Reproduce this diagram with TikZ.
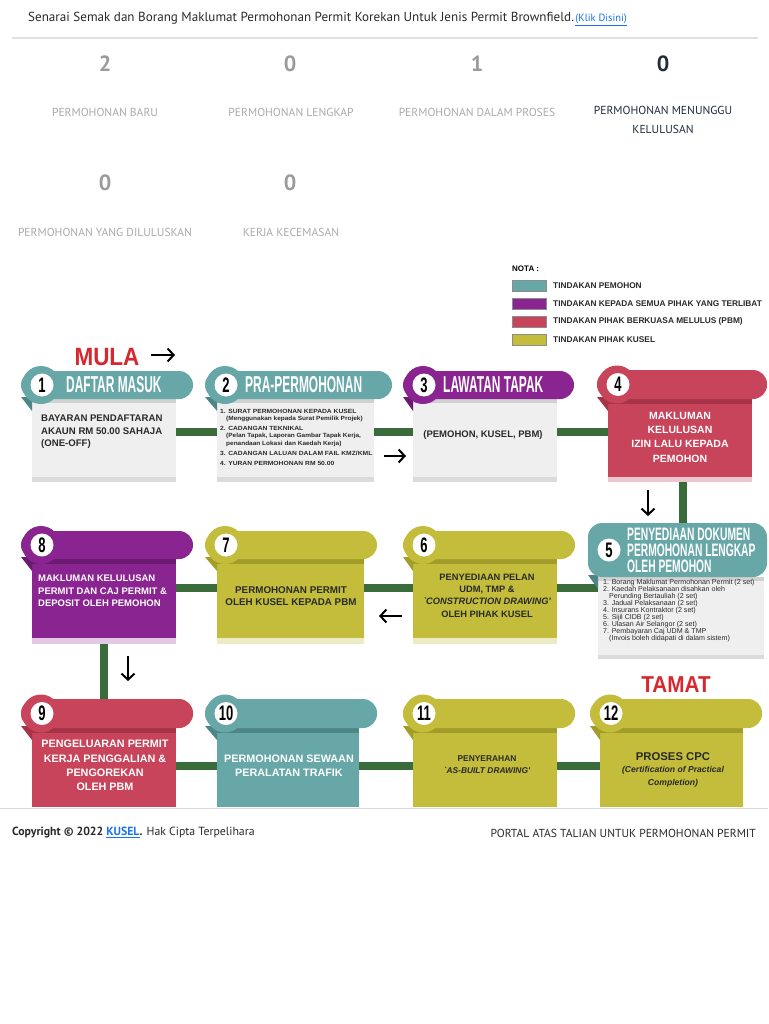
\documentclass[tikz,border=0pt]{standalone}
\usepackage{fontspec}
\usepackage{graphicx}
\setmainfont{PT Sans}
\newfontfamily\ar{Liberation Sans}
\usetikzlibrary{arrows.meta}
\definecolor{cteal}{HTML}{67A7A8}
\definecolor{cteald}{HTML}{4C8687}
\definecolor{cpurp}{HTML}{8A2490}
\definecolor{cpurpd}{HTML}{6A1A70}
\definecolor{cred}{HTML}{C8445A}
\definecolor{credd}{HTML}{A63347}
\definecolor{cyel}{HTML}{C3BD3B}
\definecolor{cyeld}{HTML}{A29D2A}
\definecolor{cgreen}{HTML}{3A6B3A}
\definecolor{cbody}{HTML}{EFEFEF}
\definecolor{cnum}{HTML}{9B9B9B}
\definecolor{clab}{HTML}{ABABAB}
\definecolor{cdark}{HTML}{1F2D3D}
\definecolor{clink}{HTML}{1A73E8}
\definecolor{cmula}{HTML}{D6282E}
\definecolor{ctxt}{HTML}{2A2A2A}
\pgfdeclarelayer{bg}
\pgfsetlayers{bg,main}
\newcommand{\tabshape}[7]{% x1,x2,ytop,ybot,bodyleft,col,dark
  \fill[#7] (#1,{#4-2}) -- (#5,{#4-2}) -- (#5,{#4+12}) -- cycle;
  \fill[#6,rounded corners=14pt] (#1,#3) rectangle (#2,#4);
  \fill[#6] ({#1+20},{(#3+#4)/2}) circle[radius=19pt];
  \fill[white] ({#1+21},{(#3+#4)/2}) circle[radius=11.5pt];
}
\newcommand{\ttl}[1]{\scalebox{0.52}[1]{\ar\bfseries\fontsize{23}{23}\selectfont #1}}
\newcommand{\ttlb}[1]{\scalebox{0.57}[1]{\ar\bfseries\fontsize{18}{18}\selectfont #1}}
\newcommand{\nm}[1]{\scalebox{0.62}[1]{\ar\bfseries\fontsize{21}{21}\selectfont #1}}
\newcommand{\lc}[1]{\scalebox{1.12}[1]{\ar\bfseries\fontsize{6}{7}\selectfont #1}}
\newcommand{\ls}[1]{\scalebox{1.08}[1]{\ar\bfseries\fontsize{6}{7}\selectfont #1}}
\tikzset{
  conn/.style={draw=cgreen, line width=8pt},
  barrow/.style={draw=black, line width=2pt, -{Straight Barb[length=6pt,width=13pt]}},
  body/.style={inner sep=0pt, outer sep=0pt, draw=none},
  ttlnode/.style={text=white, anchor=west, inner sep=0pt},
  num/.style={text=black, inner sep=0pt},
  wtxt/.style={text=white, align=center, inner sep=0pt},
  dtxt/.style={text=ctxt, align=center, inner sep=0pt},
  swatch/.style={minimum width=34pt, minimum height=11pt, inner sep=0pt, draw=black!45, line width=0.6pt},
  legtxt/.style={anchor=west, font=\ar\bfseries\fontsize{8.3}{9}\selectfont, inner sep=0pt, text=ctxt},
  stnum/.style={font=\bfseries\fontsize{22}{24}\selectfont, text=cnum, inner sep=0pt},
  stlab/.style={font=\fontsize{11.6}{19}\selectfont, text=clab, inner sep=0pt, align=center},
  lst/.style={anchor=west, inner sep=0pt, text=ctxt},
}
\begin{document}
\begin{tikzpicture}[x=1pt,y=-1pt]
\useasboundingbox (0,0) rectangle (768,1024);
\begin{pgfonlayer}{bg}
\fill[white] (0,0) rectangle (768,1024);
\end{pgfonlayer}

% ---------- header ----------
\node[anchor=west, font=\fontsize{13.1}{15}\selectfont, text=ctxt, inner sep=0pt] (hd) at (28,18)
  {Senarai Semak dan Borang Maklumat Permohonan Permit Korekan Untuk Jenis Permit Brownfield.};
\node[anchor=base west, font=\fontsize{10.5}{12}\selectfont, text=clink, inner sep=0pt] (kl) at ([xshift=1pt]hd.base east) {\underline{(Klik Disini)}};
\draw[draw=black!12, line width=1.2pt] (12,38) -- (758,38);

% ---------- stats ----------
\node[stnum] (s1) at (105,64) {2};
\node[stnum] (s2) at (290,64) {0};
\node[stnum] (s3) at (477,64) {1};
\node[stnum, text=cdark] (s4) at (663,64) {0};
\node[stlab] (l1) at (105,112) {PERMOHONAN BARU};
\node[stlab] (l2) at (291,112) {PERMOHONAN LENGKAP};
\node[stlab] (l3) at (477,112) {PERMOHONAN DALAM PROSES};
\node[stlab, text=cdark, anchor=north] (l4) at (663,106) {PERMOHONAN MENUNGGU\\KELULUSAN};
\node[stnum] (s5) at (105,183) {0};
\node[stnum] (s6) at (290,183) {0};
\node[stlab] (l5) at (105,232) {PERMOHONAN YANG DILULUSKAN};
\node[stlab] (l6) at (291,232) {KERJA KECEMASAN};

% ---------- legend ----------
\node[anchor=west, font=\ar\bfseries\fontsize{8}{9}\selectfont, inner sep=0pt, text=black] (nota) at (512,269) {NOTA :};
\node[swatch, fill=cteal] (k1) at (529,286) {};
\node[swatch, fill=cpurp] (k2) at (529,303.5) {};
\node[swatch, fill=cred] (k3) at (529,321.5) {};
\node[swatch, fill=cyel] (k4) at (529,340) {};
\node[legtxt] (kt1) at (553,286) {TINDAKAN PEMOHON};
\node[legtxt] (kt2) at (553,303.5) {TINDAKAN KEPADA SEMUA PIHAK YANG TERLIBAT};
\node[legtxt] (kt3) at (553,321.5) {TINDAKAN PIHAK BERKUASA MELULUS (PBM)};
\node[legtxt] (kt4) at (553,340) {TINDAKAN PIHAK KUSEL};

% ---------- MULA / TAMAT ----------
\node[inner sep=0pt, text=cmula] (mula) at (107,357) {\scalebox{0.9}[1]{\ar\bfseries\fontsize{25}{25}\selectfont MULA}};
\coordinate (ma1) at (151,355);
\coordinate (ma2) at (175,355);
\draw[barrow] (ma1) -- (ma2);
\node[inner sep=0pt, text=cmula] (tamat) at (676,685) {\scalebox{0.9}[1]{\ar\bfseries\fontsize{23}{23}\selectfont TAMAT}};

% ---------- bodies ----------
\node[body, fill=cbody, minimum width=144pt, minimum height=78pt] (b1) at (104,438) {};
\node[body, fill=cbody, minimum width=157pt, minimum height=78pt] (b2) at (295.5,438) {};
\node[body, fill=cbody, minimum width=144pt, minimum height=78pt] (b3) at (485,438) {};
\node[body, fill=cred, minimum width=144pt, minimum height=78pt] (b4) at (680,438) {};
\node[body, fill=cbody, minimum width=166pt, minimum height=78pt] (b5) at (681,616) {};
\node[body, fill=cyel, minimum width=144pt, minimum height=79pt] (b6) at (485,598.5) {};
\node[body, fill=cyel, minimum width=147pt, minimum height=79pt] (b7) at (290.5,598.5) {};
\node[body, fill=cpurp, minimum width=144pt, minimum height=79pt] (b8) at (104,598.5) {};
\node[body, fill=cred, minimum width=144pt, minimum height=79pt] (b9) at (104,767.5) {};
\node[body, fill=cteal, minimum width=142pt, minimum height=79pt] (b10) at (288,767.5) {};
\node[body, fill=cyel, minimum width=144pt, minimum height=79pt] (b11) at (485,767.5) {};
\node[body, fill=cyel, minimum width=143pt, minimum height=79pt] (b12) at (671.5,767.5) {};

% shadows below bodies
\fill[black!14] (b1.south west) rectangle ([yshift=-5pt]b1.south east);
\fill[black!14] (b2.south west) rectangle ([yshift=-5pt]b2.south east);
\fill[black!14] (b3.south west) rectangle ([yshift=-5pt]b3.south east);
\fill[cred!30] (b4.south west) rectangle ([yshift=-5pt]b4.south east);
\fill[black!14] (b5.south west) rectangle ([yshift=-4pt]b5.south east);
\fill[cyel!30] (b6.south west) rectangle ([yshift=-6pt]b6.south east);
\fill[cyel!30] (b7.south west) rectangle ([yshift=-6pt]b7.south east);
\fill[cpurp!25] (b8.south west) rectangle ([yshift=-6pt]b8.south east);
% bands under tabs
\fill[black!18] (b1.north west) rectangle ([yshift=-4pt]b1.north east);
\fill[black!18] (b2.north west) rectangle ([yshift=-4pt]b2.north east);
\fill[black!18] (b3.north west) rectangle ([yshift=-4pt]b3.north east);
\fill[credd] (b4.north west) rectangle ([yshift=-5pt]b4.north east);
\fill[black!18] (b5.north west) rectangle ([yshift=-4pt]b5.north east);
\fill[cyeld] (b6.north west) rectangle ([yshift=-5pt]b6.north east);
\fill[cyeld] (b7.north west) rectangle ([yshift=-5pt]b7.north east);
\fill[cpurpd] (b8.north west) rectangle ([yshift=-5pt]b8.north east);
\fill[credd] (b9.north west) rectangle ([yshift=-5pt]b9.north east);
\fill[cteald] (b10.north west) rectangle ([yshift=-5pt]b10.north east);
\fill[cyeld] (b11.north west) rectangle ([yshift=-5pt]b11.north east);
\fill[cyeld] (b12.north west) rectangle ([yshift=-5pt]b12.north east);

% ---------- tabs ----------
\tabshape{21}{193}{371}{399}{32}{cteal}{cteald}
\tabshape{205}{392}{371}{399}{217}{cteal}{cteald}
\tabshape{403}{574}{371}{399}{413}{cpurp}{cpurpd}
\tabshape{597}{767}{370}{399}{608}{cred}{credd}
\tabshape{588}{767}{523}{577}{598}{cteal}{cteald}
\tabshape{403}{575}{531}{559}{413}{cyel}{cyeld}
\tabshape{205}{377}{531}{559}{217}{cyel}{cyeld}
\tabshape{21}{193}{531}{559}{32}{cpurp}{cpurpd}
\tabshape{21}{193}{699}{728}{32}{cred}{credd}
\tabshape{205}{377}{699}{728}{217}{cteal}{cteald}
\tabshape{403}{575}{699}{728}{413}{cyel}{cyeld}
\tabshape{590}{762}{699}{728}{600}{cyel}{cyeld}

% numbers
\node[num] (n1) at (42,385) {\nm{1}};
\node[num] (n2) at (226,385) {\nm{2}};
\node[num] (n3) at (424,385) {\nm{3}};
\node[num] (n4) at (618,384.5) {\nm{4}};
\node[num] (n5) at (609,550) {\nm{5}};
\node[num] (n6) at (424,545) {\nm{6}};
\node[num] (n7) at (226,545) {\nm{7}};
\node[num] (n8) at (42,545) {\nm{8}};
\node[num] (n9) at (42,713.5) {\nm{9}};
\node[num] (n10) at (226,713.5) {\nm{10}};
\node[num] (n11) at (424,713.5) {\nm{11}};
\node[num] (n12) at (611,713.5) {\nm{12}};

% titles
\node[ttlnode] (tt1) at (66,385) {\ttl{DAFTAR MASUK}};
\node[ttlnode] (tt2) at (245,385) {\ttl{PRA-PERMOHONAN}};
\node[ttlnode] (tt3) at (443,385) {\ttl{LAWATAN TAPAK}};
\node[ttlnode] (tt5a) at (627,534) {\ttlb{PENYEDIAAN DOKUMEN}};
\node[ttlnode] (tt5b) at (627,550) {\ttlb{PERMOHONAN LENGKAP}};
\node[ttlnode] (tt5c) at (627,566) {\ttlb{OLEH PEMOHON}};

% ---------- body texts ----------
\node[dtxt, align=left, anchor=north west, font=\ar\bfseries\fontsize{9.6}{12.5}\selectfont] (x1) at (41,415)
  {BAYARAN PENDAFTARAN\\AKAUN RM 50.00 SAHAJA\\(ONE-OFF)};

\node[lst] (x2a) at (220,411) {\lc{1. SURAT PERMOHONAN KEPADA KUSEL}};
\node[lst] (x2b) at (226,418.5) {\ls{(Menggunakan kepada Surat Pemilik Projek)}};
\node[lst] (x2c) at (220,428) {\lc{2. CADANGAN TEKNIKAL}};
\node[lst] (x2d) at (226,436) {\ls{(Pelan Tapak, Laporan Gambar Tapak Kerja,}};
\node[lst] (x2e) at (226,444) {\ls{penandaan Lokasi dan Kaedah Kerja)}};
\node[lst] (x2f) at (220,453) {\lc{3. CADANGAN LALUAN DALAM FAIL KMZ/KML}};
\node[lst] (x2g) at (220,463) {\lc{4. YURAN PERMOHONAN RM 50.00}};

\node[dtxt, font=\ar\bfseries\fontsize{9.5}{12}\selectfont] (x3) at (483,435) {(PEMOHON, KUSEL, PBM)};

\node[wtxt, font=\ar\bfseries\fontsize{10.5}{14.3}\selectfont] (x4) at (680,437)
  {MAKLUMAN\\KELULUSAN\\IZIN LALU KEPADA\\PEMOHON};

\node[dtxt, align=left, anchor=north west, font=\ar\fontsize{7.1}{7}\selectfont] (x5) at (603,579.5)
  {1. Borang Maklumat Permohonan Permit (2 set)\\
   2. Kaedah Pelaksanaan disahkan oleh\\
   \hspace*{6pt}Perunding Bertauliah (2 set)\\
   3. Jadual Pelaksanaan (2 set)\\
   4. Insurans Kontraktor (2 set)\\
   5. Sijil CIDB (2 set)\\
   6. Ulasan Air Selangor (2 set)\\
   7. Pembayaran Caj UDM \& TMP\\
   \hspace*{6pt}(Invois boleh didapati di dalam sistem)};

\node[dtxt, font=\ar\bfseries\fontsize{9.3}{12.4}\selectfont] (x6) at (487,595.5)
  {PENYEDIAAN PELAN\\UDM, TMP \&\\\textit{`CONSTRUCTION DRAWING'}\\OLEH PIHAK KUSEL};

\node[dtxt, font=\ar\bfseries\fontsize{9.8}{12.5}\selectfont] (x7) at (291,596)
  {PERMOHONAN PERMIT\\OLEH KUSEL KEPADA PBM};

\node[wtxt, align=left, anchor=north west, font=\ar\bfseries\fontsize{9.5}{12.3}\selectfont] (x8) at (38,575)
  {MAKLUMAN KELULUSAN\\PERMIT DAN CAJ PERMIT \&\\DEPOSIT OLEH PEMOHON};

\node[wtxt, font=\ar\bfseries\fontsize{10.8}{14.3}\selectfont] (x9) at (105,765.5)
  {PENGELUARAN PERMIT\\KERJA PENGGALIAN \&\\PENGOREKAN\\OLEH PBM};

\node[wtxt, font=\ar\bfseries\fontsize{10.8}{14}\selectfont] (x10) at (289,766)
  {PERMOHONAN SEWAAN\\PERALATAN TRAFIK};

\node[dtxt, font=\ar\bfseries\fontsize{8.4}{12}\selectfont] (x11) at (487,765)
  {PENYERAHAN\\\textit{`AS-BUILT DRAWING'}};

\node[dtxt, font=\ar\bfseries\fontsize{11.3}{14}\selectfont] (x12a) at (673,757) {PROSES CPC};
\node[dtxt, font=\ar\bfseries\itshape\fontsize{8.6}{13.5}\selectfont] (x12b) at (673,777)
  {(Certification of Practical\\Completion)};

% ---------- connectors ----------
\coordinate (t5top) at (683,524);
\coordinate (t9top) at (104,700);
\begin{pgfonlayer}{bg}
\draw[conn] ([yshift=6pt]b1.east) -- ([yshift=6pt]b2.west);
\draw[conn] ([yshift=6pt]b2.east) -- ([yshift=6pt]b3.west);
\draw[conn] ([yshift=6pt]b3.east) -- ([yshift=6pt]b4.west);
\draw[conn] ([xshift=3pt]b4.south) -- ([xshift=3pt]b4.south |- t5top);
\draw[conn] ([yshift=11pt]b6.east) -- ([yshift=11pt]b6.east -| b5.west);
\draw[conn] ([yshift=11pt]b7.east) -- ([yshift=11pt]b6.west);
\draw[conn] ([yshift=11pt]b8.east) -- ([yshift=11pt]b7.west);
\draw[conn] (b8.south) -- (b8.south |- t9top);
\draw[conn] ([yshift=1.5pt]b9.east) -- ([yshift=1.5pt]b10.west);
\draw[conn] ([yshift=1.5pt]b10.east) -- ([yshift=1.5pt]b11.west);
\draw[conn] ([yshift=1.5pt]b11.east) -- ([yshift=1.5pt]b12.west);
\end{pgfonlayer}

% direction arrows
\coordinate (a1s) at (384,456); \coordinate (a1e) at (406,456);
\coordinate (a2s) at (648,490); \coordinate (a2e) at (648,516);
\coordinate (a3s) at (402,616); \coordinate (a3e) at (379,616);
\coordinate (a4s) at (128,656); \coordinate (a4e) at (128,681);
\draw[barrow] (a1s) -- (a1e);
\draw[barrow] (a2s) -- (a2e);
\draw[barrow] (a3s) -- (a3e);
\draw[barrow] (a4s) -- (a4e);

% ---------- footer ----------
\draw[draw=black!15, line width=1.5pt] (0,808.5) -- (768,808.5);
\node[anchor=west, font=\fontsize{11.8}{13}\selectfont, inner sep=0pt, text=ctxt] (ft) at (12,833)
  {\textbf{Copyright © 2022 \textcolor{clink}{\underline{KUSEL}}.} Hak Cipta Terpelihara};
\node[anchor=east, font=\fontsize{11.6}{13}\selectfont, inner sep=0pt, text=ctxt] (fr) at (756,833)
  {PORTAL ATAS TALIAN UNTUK PERMOHONAN PERMIT};
\end{tikzpicture}
\end{document}
